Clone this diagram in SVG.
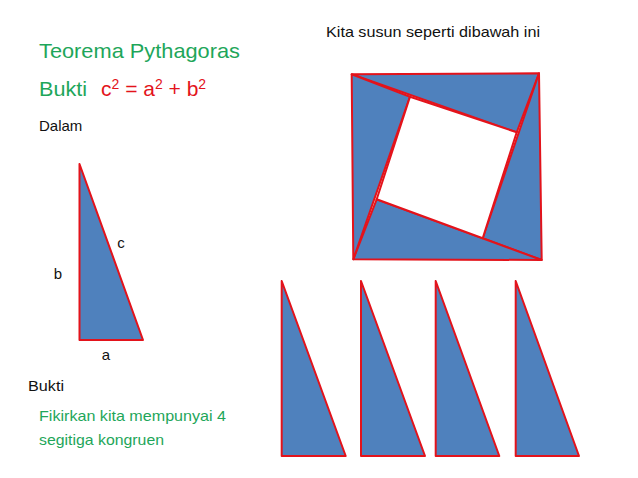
<svg xmlns="http://www.w3.org/2000/svg" width="638" height="478" viewBox="0 0 638 478">
<style>
.tri{fill:#4f81bd;stroke:#e3131b;stroke-width:2;stroke-linejoin:round}
.t{font-family:"Liberation Sans",Arial,sans-serif}
.big{font-size:21px}
.sm{font-size:15px}
.green{fill:#1ea65a}
.red{fill:#e3131b}
.blk{fill:#111}
</style>
<rect width="638" height="478" fill="#fff"/>
<g id="title">
<text class="t big green" x="39" y="58" textLength="201" lengthAdjust="spacingAndGlyphs">Teorema Pythagoras</text>
<text class="t big green" x="39" y="96" textLength="48" lengthAdjust="spacingAndGlyphs">Bukti</text>
<text class="t big red" x="101" y="96">c<tspan font-size="14" dy="-7">2</tspan><tspan dy="7"> = a</tspan><tspan font-size="14" dy="-7">2</tspan><tspan dy="7"> + b</tspan><tspan font-size="14" dy="-7">2</tspan></text>
<text class="t sm blk" x="39" y="131">Dalam</text>
</g>
<g id="triangle-abc">
<polygon class="tri" points="79.5,164 79.5,340 143,340"/>
<text class="t sm blk" x="121" y="248" text-anchor="middle">c</text>
<text class="t sm blk" x="58" y="279" text-anchor="middle">b</text>
<text class="t sm blk" x="106" y="360" text-anchor="middle">a</text>
</g>
<g id="bukti">
<text class="t sm blk" x="28" y="391" textLength="36" lengthAdjust="spacingAndGlyphs">Bukti</text>
<text class="t sm green" x="39" y="421" textLength="187" lengthAdjust="spacingAndGlyphs">Fikirkan kita mempunyai 4</text>
<text class="t sm green" x="39" y="445" textLength="125" lengthAdjust="spacingAndGlyphs">segitiga kongruen</text>
</g>
<g id="arrangement">
<text class="t sm blk" x="326" y="37" textLength="214" lengthAdjust="spacingAndGlyphs">Kita susun seperti dibawah ini</text>
<polygon class="tri" points="351.7,74.3 539,73.3 516.7,132.3"/>
<polygon class="tri" points="539,73.3 541.7,260 482.7,238.3"/>
<polygon class="tri" points="541.7,260 353.3,259.3 376.7,199.3"/>
<polygon class="tri" points="353.3,259.3 351.7,74.3 410,96.7"/>
<polygon points="410,96.7 516.7,132.3 482.7,238.3 376.7,199.3" fill="#fff" stroke="#e3131b" stroke-width="2"/>
</g>
<g id="four-triangles">
<polygon class="tri" points="281.7,281 281.7,456 345.7,456"/>
<polygon class="tri" points="361,281 361,456 425,456"/>
<polygon class="tri" points="435.7,281 435.7,456 499.3,456"/>
<polygon class="tri" points="515.7,281 515.7,456 579,456"/>
</g>
</svg>
